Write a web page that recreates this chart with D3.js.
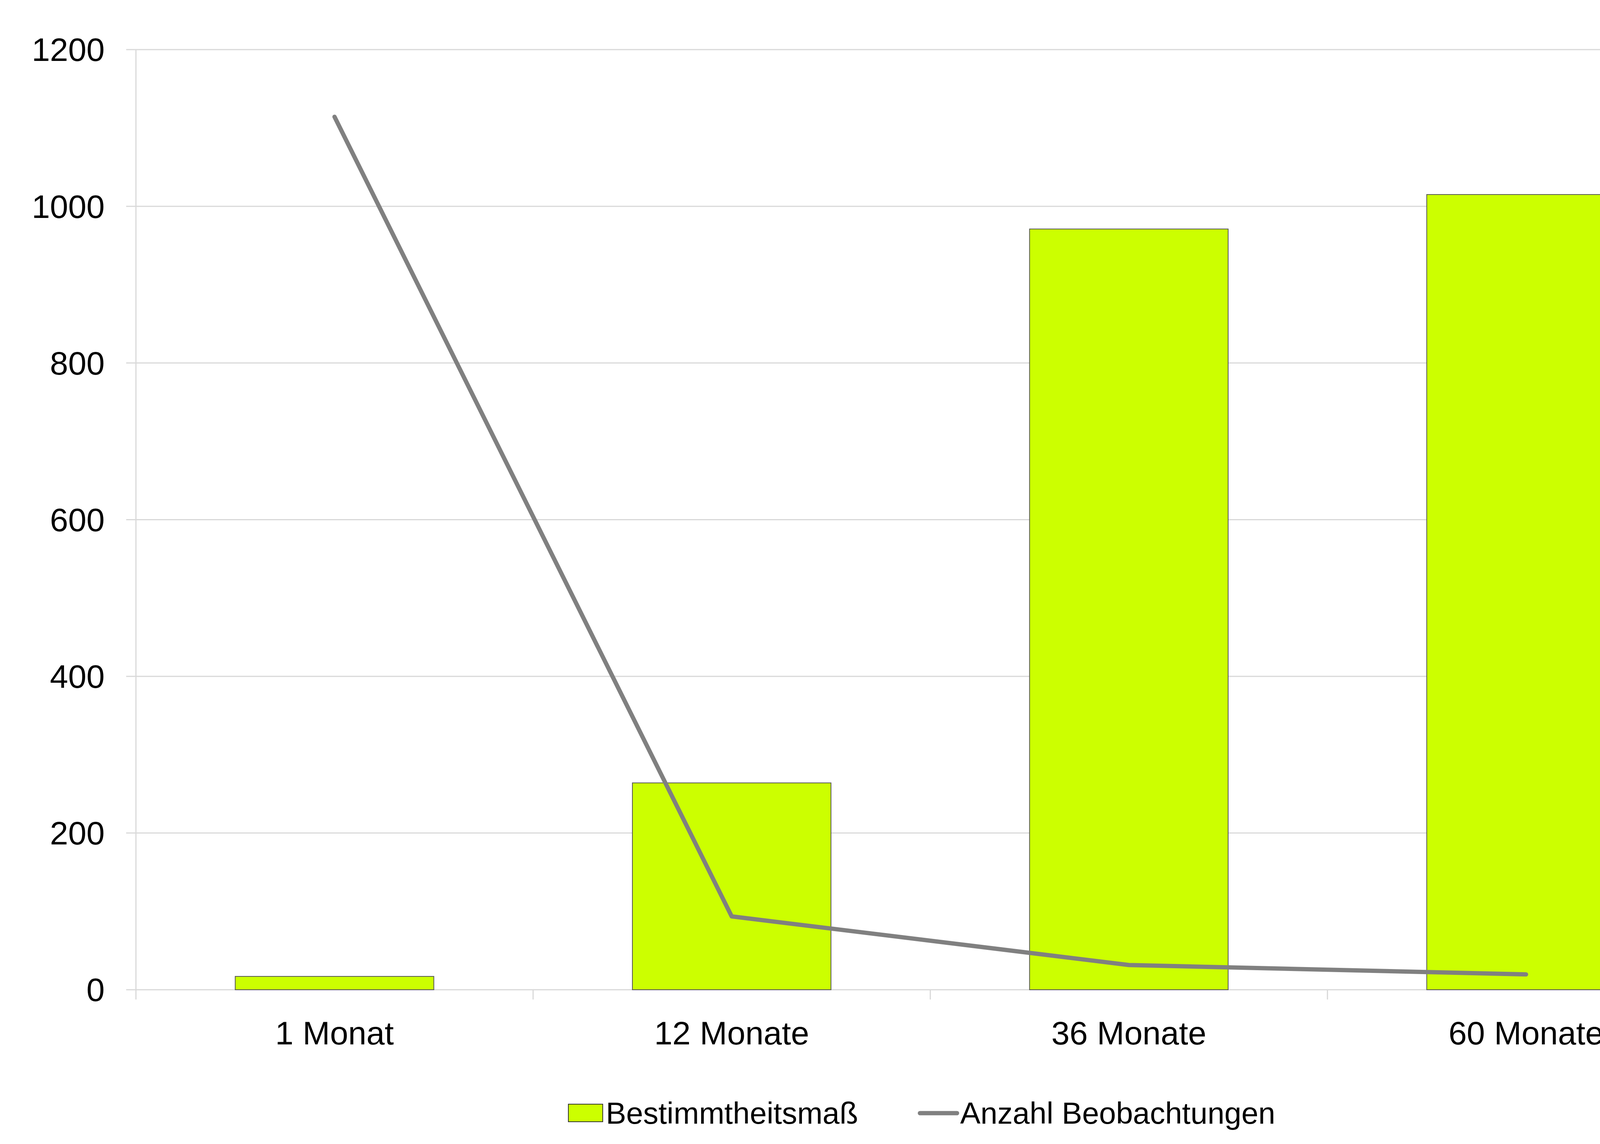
<!DOCTYPE html>
<html>
<head>
<meta charset="utf-8">
<script src="https://cdn.jsdelivr.net/npm/d3@7"></script>
<style>
  body { margin: 0; background: #fff; }
  text { font-family: "Liberation Sans", Arial, sans-serif; }
</style>
</head>
<body>
<script>
const categories = ["1 Monat", "12 Monate", "36 Monate", "60 Monate"];
const barValues = [17, 264, 971, 1015];
const lineValues = [0.325, 0.0273, 0.0092, 0.0057];
const leftTicks = [0, 200, 400, 600, 800, 1000, 1200];
const rightTicks = [0, 0.05, 0.10, 0.15, 0.20, 0.25, 0.30, 0.35];
const barName = "Bestimmtheitsmaß";
const lineName = "Anzahl Beobachtungen";

const W = 4730, H = 2929;
const plotL = 348, plotR = 4415, plotT = 127, plotB = 2534;

const svg = d3.select("body").append("svg")
  .attr("width", W).attr("height", H);

const x = d3.scaleBand().domain(categories).range([plotL, plotR]).padding(0);
const y = d3.scaleLinear().domain([0, 1200]).range([plotB, plotT]);
const y2 = d3.scaleLinear().domain([0, 0.35]).range([plotB, plotT]);

// gridlines
svg.append("g").selectAll("line").data(leftTicks).enter().append("line")
  .attr("x1", plotL - 25).attr("x2", plotR + 25)
  .attr("y1", d => y(d)).attr("y2", d => y(d))
  .attr("stroke", "#d9d9d9").attr("stroke-width", 3);

// axis lines
svg.append("line").attr("x1", plotL).attr("x2", plotL).attr("y1", plotT).attr("y2", plotB + 25)
  .attr("stroke", "#d9d9d9").attr("stroke-width", 3);
svg.append("line").attr("x1", plotR).attr("x2", plotR).attr("y1", plotT).attr("y2", plotB + 25)
  .attr("stroke", "#d9d9d9").attr("stroke-width", 3);
svg.append("g").selectAll("line").data(categories.slice(1)).enter().append("line")
  .attr("x1", d => x(d)).attr("x2", d => x(d))
  .attr("y1", plotB).attr("y2", plotB + 25)
  .attr("stroke", "#d9d9d9").attr("stroke-width", 3);

// bars
const bw = x.bandwidth() * 0.5;
svg.append("g").selectAll("rect").data(categories).enter().append("rect")
  .attr("x", d => x(d) + (x.bandwidth() - bw) / 2)
  .attr("width", bw)
  .attr("y", (d, i) => y(barValues[i]))
  .attr("height", (d, i) => plotB - y(barValues[i]))
  .attr("fill", "#ccff00").attr("stroke", "#555").attr("stroke-width", 2);

// line
const line = d3.line()
  .x((d, i) => x(categories[i]) + x.bandwidth() / 2)
  .y(d => y2(d));
svg.append("path").datum(lineValues).attr("d", line)
  .attr("fill", "none").attr("stroke", "#808080").attr("stroke-width", 11)
  .attr("stroke-linecap", "round").attr("stroke-linejoin", "round");

// left labels
svg.append("g").selectAll("text").data(leftTicks).enter().append("text")
  .attr("x", 268).attr("y", d => y(d)).attr("dy", "0.35em")
  .attr("text-anchor", "end").attr("font-size", 84).text(d => d);

// right labels
svg.append("g").selectAll("text").data(rightTicks).enter().append("text")
  .attr("x", 4495).attr("y", d => y2(d)).attr("dy", "0.35em")
  .attr("text-anchor", "start").attr("font-size", 84).text(d => Math.round(d * 100) + "%");

// category labels
svg.append("g").selectAll("text").data(categories).enter().append("text")
  .attr("x", d => x(d) + x.bandwidth() / 2).attr("y", 2645)
  .attr("dy", "0.35em").attr("text-anchor", "middle").attr("font-size", 84).text(d => d);

// legend
svg.append("rect").attr("x", 1455).attr("y", 2827).attr("width", 88).attr("height", 45)
  .attr("fill", "#ccff00").attr("stroke", "#333").attr("stroke-width", 2);
svg.append("text").attr("x", 1551).attr("y", 2850).attr("dy", "0.35em")
  .attr("font-size", 78).text(barName);
svg.append("line").attr("x1", 2355).attr("x2", 2450).attr("y1", 2850).attr("y2", 2850)
  .attr("stroke", "#808080").attr("stroke-width", 11).attr("stroke-linecap", "round");
svg.append("text").attr("x", 2458).attr("y", 2850).attr("dy", "0.35em")
  .attr("font-size", 78).text(lineName);
</script>
</body>
</html>
